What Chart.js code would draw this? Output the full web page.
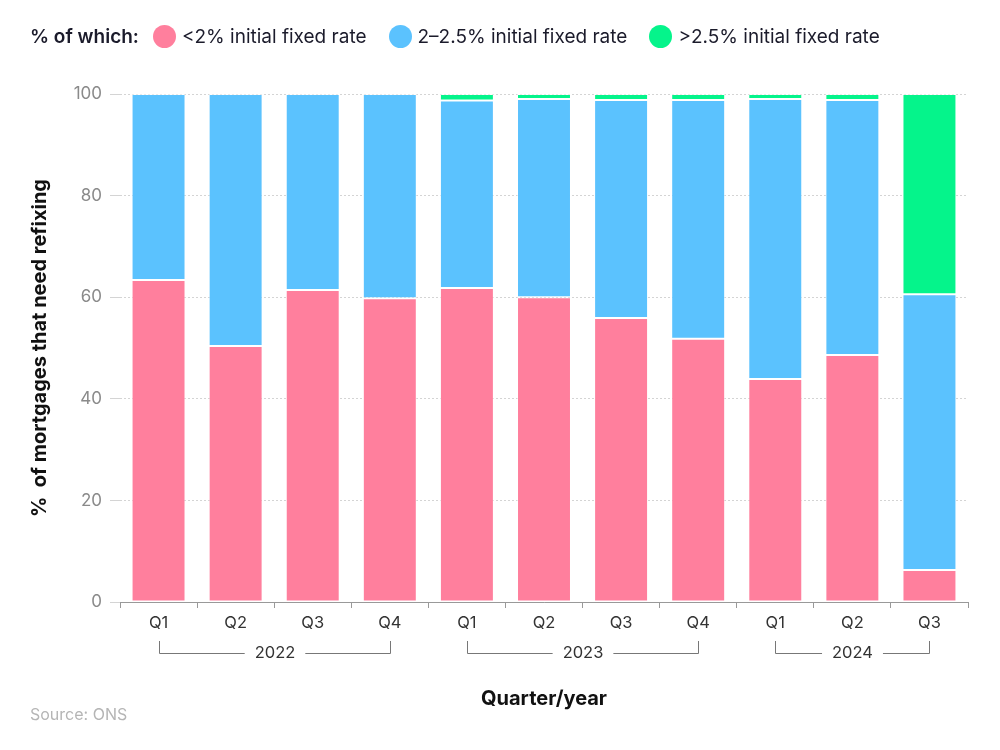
<!DOCTYPE html>
<html lang="en">
<head>
    <meta charset="UTF-8">
    <title>Mortgages that need refixing</title>
    <script src="https://cdn.jsdelivr.net/npm/chart.js@4.4.1/dist/chart.umd.min.js"></script>
    <style>
        body {
            margin: 0;
            width: 1000px;
            height: 750px;
            position: relative;
            font-family: 'Inter', 'Liberation Sans', sans-serif;
            background: #fff;
        }

        .chart-container {
            position: absolute;
            left: 0;
            top: 0;
            width: 1000px;
            height: 750px;
        }

        .legend {
            position: absolute;
            left: 30px;
            top: 25px;
            display: flex;
            align-items: center;
            font-size: 19px;
            color: #1b1b2b;
        }

        .legend .lead {
            font-weight: 600;
            margin-right: 14px;
        }

        .legend .item {
            display: flex;
            align-items: center;
            margin-right: 22px;
        }

        .legend .dot {
            width: 23px;
            height: 23px;
            border-radius: 50%;
            margin-right: 6px;
        }

        .source {
            position: absolute;
            left: 30px;
            top: 704px;
            font-size: 16px;
            color: #b5b5b5;
        }
    </style>
</head>
<body>
<div class="chart-container">
    <canvas id="refixChart" width="1000" height="750"></canvas>
</div>
<div class="legend" id="legend"></div>
<div class="source">Source: ONS</div>

<script>
    const quarters = ['Q1', 'Q2', 'Q3', 'Q4', 'Q1', 'Q2', 'Q3', 'Q4', 'Q1', 'Q2', 'Q3'];
    const years = ['2022', '2023', '2024'];
    const yearFirstIndex = [0, 4, 8];
    const yearLastIndex = [3, 7, 10];

    const seriesNames = ['<2% initial fixed rate', '2\u20132.5% initial fixed rate', '>2.5% initial fixed rate'];
    const seriesColors = ['#ff7f9d', '#5bc2fe', '#05f48b'];

    const below2 = [63.4, 50.4, 61.4, 59.8, 61.8, 60.0, 55.9, 51.8, 43.9, 48.6, 6.3];
    const from2to25 = [36.6, 49.6, 38.6, 40.2, 36.9, 39.0, 42.9, 47.0, 55.1, 50.2, 54.3];
    const above25 = [0, 0, 0, 0, 1.3, 1.0, 1.2, 1.2, 1.0, 1.2, 39.4];

    const yTicks = [0, 20, 40, 60, 80, 100];

    // HTML legend
    const legend = document.getElementById('legend');
    legend.innerHTML = '<span class="lead">% of which:</span>' + seriesNames.map((name, i) =>
        `<span class="item"><span class="dot" style="background:${seriesColors[i]}"></span>${name.replace('<', '&lt;').replace('>', '&gt;')}</span>`
    ).join('');

    // Year brackets under quarter labels
    const yearBrackets = {
        id: 'yearBrackets',
        afterDraw(chart) {
            const ctx = chart.ctx;
            const x = chart.scales.x;
            const lineY = 653;
            const topY = 641;
            ctx.save();
            ctx.font = '16.5px Inter, "Liberation Sans", sans-serif';
            ctx.fillStyle = '#333';
            ctx.strokeStyle = '#777';
            ctx.lineWidth = 1;
            ctx.textAlign = 'center';
            ctx.textBaseline = 'middle';
            years.forEach((year, i) => {
                const x1 = Math.round(x.getPixelForValue(yearFirstIndex[i])) + 0.5;
                const x2 = Math.round(x.getPixelForValue(yearLastIndex[i])) + 0.5;
                const mid = (x1 + x2) / 2;
                const half = ctx.measureText(year).width / 2 + 10;
                ctx.beginPath();
                ctx.moveTo(x1, topY);
                ctx.lineTo(x1, lineY + 0.5);
                ctx.lineTo(mid - half, lineY + 0.5);
                ctx.moveTo(mid + half, lineY + 0.5);
                ctx.lineTo(x2, lineY + 0.5);
                ctx.lineTo(x2, topY);
                ctx.stroke();
                ctx.fillText(year, mid, lineY);
            });
            ctx.restore();
        }
    };

    const makeSet = (label, data, color) => ({
        label: label,
        data: data,
        backgroundColor: color,
        borderColor: 'rgba(255,255,255,0.5)',
        borderWidth: 1,
        borderSkipped: false,
        barPercentage: 0.7,
        categoryPercentage: 1.0
    });

    const config = {
        type: 'bar',
        data: {
            labels: quarters,
            datasets: [
                makeSet(seriesNames[0], below2, seriesColors[0]),
                makeSet(seriesNames[1], from2to25, seriesColors[1]),
                makeSet(seriesNames[2], above25, seriesColors[2])
            ]
        },
        options: {
            responsive: false,
            animation: false,
            layout: {
                padding: { top: 94, left: 28, right: 32, bottom: 39 }
            },
            plugins: {
                legend: { display: false },
                tooltip: { enabled: false }
            },
            scales: {
                x: {
                    stacked: true,
                    afterFit(scale) { scale.height = 109; },
                    grid: {
                        display: true,
                        drawOnChartArea: false,
                        drawTicks: true,
                        tickLength: 6,
                        color: '#999',
                        offset: true
                    },
                    border: { display: true, color: '#999' },
                    ticks: {
                        color: '#333',
                        padding: 5,
                        font: { family: 'Inter', size: 16.5 }
                    },
                    title: {
                        display: true,
                        text: 'Quarter/year',
                        color: '#111',
                        padding: 0,
                        font: { family: 'Inter', size: 20, weight: 'bold' }
                    }
                },
                y: {
                    stacked: true,
                    min: 0,
                    max: 100,
                    afterFit(scale) { scale.width = 92; },
                    afterBuildTicks(scale) {
                        scale.ticks = yTicks.map(v => ({ value: v }));
                    },
                    grid: {
                        color: '#d4d4d4',
                        tickLength: 10
                    },
                    border: { display: false, dash: [2, 2] },
                    ticks: {
                        color: '#8a8a8a',
                        padding: 8,
                        font: { family: 'Inter', size: 17 }
                    },
                    title: {
                        display: true,
                        text: '%  of mortgages that need refixing',
                        color: '#111',
                        padding: 0,
                        font: { family: 'Inter', size: 20, weight: 'bold' }
                    }
                }
            }
        },
        plugins: [yearBrackets]
    };

    new Chart(document.getElementById('refixChart').getContext('2d'), config);
</script>
</body>
</html>
